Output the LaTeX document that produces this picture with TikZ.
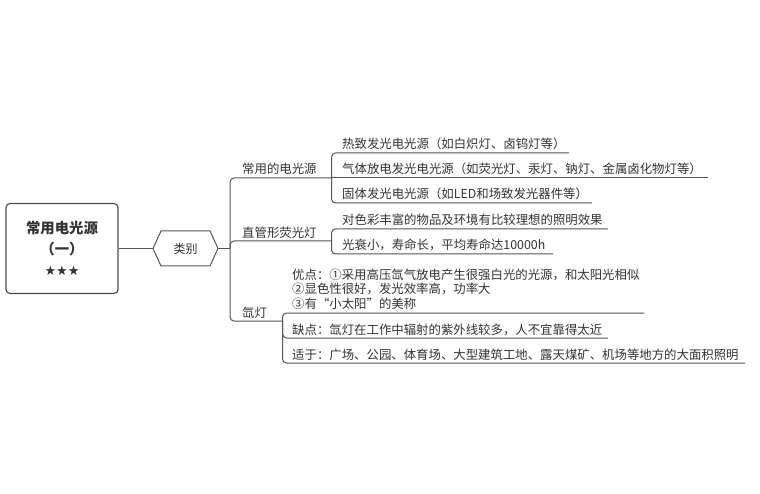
\documentclass[tikz,border=0pt]{standalone}
\usepackage{fontspec}
\setmainfont{Noto Sans CJK SC}
\newfontfamily\symfont{DejaVu Sans}
\definecolor{textc}{HTML}{333333}
\definecolor{linec}{HTML}{555555}
\definecolor{boxc}{HTML}{4A4A4A}
\begin{document}
\begin{tikzpicture}[x=1pt,y=-1pt,
  conn/.style={draw=linec,line width=1pt,rounded corners=4pt},
  lbl/.style={font=\fontsize{12.4}{15}\selectfont,text=textc,inner sep=0pt,anchor=base west},
  rootbox/.style={draw=boxc,line width=1.1pt,rounded corners=4pt,minimum width=112pt,minimum height=90pt,align=center,text=textc,fill=white},
  hexs/.style={draw=linec,line width=1pt,fill=white}]
\useasboundingbox[fill=white] (0,0) rectangle (760,494);
% root
\node[rootbox,font=\fontsize{14.4}{21}\selectfont\bfseries] (root) at (62,248.5) {常用电光源\\（一）\\{\symfont\fontsize{13}{21}\selectfont ★★★}};
% hexagon
\coordinate (hw) at (153,248.5);
\coordinate (he) at (218,248.5);
\draw[hexs] (hw) -- (161,231) -- (210,231) -- (he) -- (210,266) -- (161,266) -- cycle;
\node[font=\fontsize{12}{14}\selectfont,text=textc,inner sep=0pt] (cat) at (185.5,248.5) {类别};
\draw[conn] (root.east) -- (hw);
% trunk
\coordinate (t) at (230,248.5);
\coordinate (s1) at (331.5,178);
\coordinate (s2) at (331.5,241);
\coordinate (s3) at (282.5,321);
\draw[conn] (he) -- (t);
\draw[conn] (t) |- (s1);
\draw[conn] (t) |- (s2);
\draw[conn] (t) |- (s3);
% branch labels
\node[lbl] (b1) at (242,174) {常用的电光源};
\node[lbl] (b2) at (242,237.5) {直管形荧光灯};
\node[lbl] (b3) at (242,317) {氙灯};
% children of branch 1
\coordinate (u11) at (569,153);
\coordinate (u12) at (708,178);
\coordinate (u13) at (592,203);
\draw[conn] (s1) |- (u11);
\draw[conn] (s1) -- (u12);
\draw[conn] (s1) |- (u13);
\node[lbl] (c11) at (342,149) {热致发光电光源（如白炽灯、卤钨灯等）};
\node[lbl] (c12) at (342,174) {气体放电发光电光源（如荧光灯、汞灯、钠灯、金属卤化物灯等）};
\node[lbl] (c13) at (342,199) {固体发光电光源（如LED和场致发光器件等）};
% children of branch 2
\coordinate (u21) at (608,229);
\coordinate (u22) at (553,254);
\draw[conn] (s2) |- (u21);
\draw[conn] (s2) |- (u22);
\node[lbl] (c21) at (342,225) {对色彩丰富的物品及环境有比较理想的照明效果};
\node[lbl] (c22) at (342,250) {光衰小，寿命长，平均寿命达10000h};
% children of branch 3
\coordinate (u31) at (644,313);
\coordinate (u32) at (608,338);
\coordinate (u33) at (745,363);
\draw[conn] (s3) |- (u31);
\draw[conn] (s3) |- (u32);
\draw[conn] (s3) |- (u33);
\node[lbl,anchor=south west,align=left,font=\fontsize{12.4}{14.8}\selectfont] (c31) at (292,310) {优点：①采用高压氙气放电产生很强白光的光源，和太阳光相似\\②显色性很好，发光效率高，功率大\\③有“小太阳”的美称};
\node[lbl] (c32) at (292,334) {缺点：氙灯在工作中辐射的紫外线较多，人不宜靠得太近};
\node[lbl] (c33) at (292,359) {适于：广场、公园、体育场、大型建筑工地、露天煤矿、机场等地方的大面积照明};
\end{tikzpicture}
\end{document}
